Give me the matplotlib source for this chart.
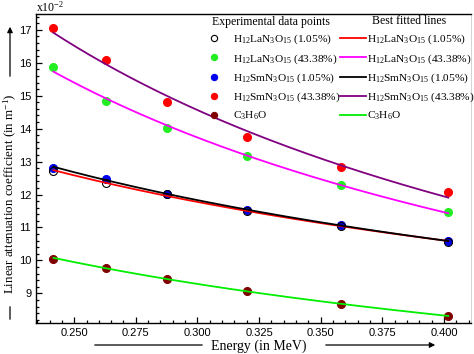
import numpy as np
import matplotlib
matplotlib.use("Agg")
import matplotlib.pyplot as plt
from matplotlib.lines import Line2D
from matplotlib.patches import FancyArrowPatch
from matplotlib.ticker import MultipleLocator

plt.rcParams['mathtext.fontset'] = 'stix'
plt.rcParams['mathtext.default'] = 'regular'

energy = [0.2416, 0.2627, 0.2877, 0.3200, 0.3584, 0.4018]
la_105 = [12.70, 12.35, 12.02, 11.50, 11.04, 10.57]
la_4338 = [15.87, 14.83, 14.03, 13.16, 12.30, 11.46]
sm_105 = [12.82, 12.47, 12.03, 11.52, 11.06, 10.59]
sm_4338 = [17.07, 16.07, 14.80, 13.75, 12.83, 12.07]
acetone = [10.05, 9.78, 9.45, 9.06, 8.69, 8.30]

labels = [r'H$_{12}$LaN$_3$O$_{15}$ (1.05%)',
          r'H$_{12}$LaN$_3$O$_{15}$ (43.38%)',
          r'H$_{12}$SmN$_3$O$_{15}$ (1.05%)',
          r'H$_{12}$SmN$_3$O$_{15}$ (43.38%)',
          r'C$_3$H$_6$O']
series = [la_105, la_4338, sm_105, sm_4338, acetone]
mcolors = ['none', '#22ee22', '#0000ee', '#ff0000', '#800000']
medges = ['black', '#22ee22', '#0000ee', '#ff0000', '#800000']
lcolors = ['#ff0000', '#ff00ff', '#000000', '#800080', '#00ee00']

serif = 'Liberation Serif'
sans = 'Liberation Sans'
W, H = 474, 354

fig = plt.figure(figsize=(4.74, 3.54), dpi=100)
ax = fig.add_axes([36 / W, 1 - 323 / H, 435 / W, 309 / H])

E = np.array(energy)
xf = np.linspace(E.min(), E.max(), 200)
for i in [4, 3, 2, 1, 0]:
    ax.plot(energy, series[i], 'o', ms=5.7, mfc=mcolors[i], mec=medges[i],
            mew=0.8, zorder=3)
for i in [4, 1, 0, 3, 2]:
    b, a = np.polyfit(np.log(E), np.log(series[i]), 1)
    ax.plot(xf, np.exp(a) * xf ** b, color=lcolors[i], lw=1.3, zorder=4)

ax.set_xlim(0.2345, 0.411)
ax.set_ylim(8.1, 17.48)
ax.xaxis.set_minor_locator(MultipleLocator(0.005))
ax.yaxis.set_minor_locator(MultipleLocator(0.2))
ax.tick_params(which='both', direction='in', top=False, right=False,
               labelsize=8, width=0.9)
ax.tick_params(which='major', length=4.5)
ax.tick_params(which='minor', length=2.5)
ax.set_xticks([0.25, 0.275, 0.3, 0.325, 0.35, 0.375, 0.4])
ax.set_xticklabels(['0.250', '0.275', '0.300', '0.325', '0.350', '0.375', '0.400'])
ax.set_yticks([9, 10, 11, 12, 13, 14, 15, 16, 17])
ax.set_yticklabels(['9', '10', '11', '12', '13', '14', '15', '16', '17'])
for lab in ax.get_xticklabels() + ax.get_yticklabels():
    lab.set_fontfamily(sans)
for s in ['left', 'bottom', 'top']:
    ax.spines[s].set_linewidth(1.0)
ax.spines['right'].set_linewidth(0.6)
ax.spines['right'].set_color('#cccccc')

# legends
fs = 8.2
px = fs * 100 / 72
h1 = [Line2D([], [], ls='none', marker='o', ms=4.5, mfc=mcolors[i], mec=medges[i],
             mew=0.8) for i in range(5)]
leg1 = fig.legend(h1, labels, loc='upper left', bbox_to_anchor=(208.5 / W, 1 - 33 / H),
                  bbox_transform=fig.transFigure, frameon=False,
                  prop={'family': serif, 'size': fs},
                  handlelength=1.0, handletextpad=(233 - 208.5 - px) / px, labelspacing=0.5,
                  borderaxespad=0, borderpad=0)
h2 = [Line2D([], [], color=lcolors[i], lw=1.3) for i in range(5)]
leg2 = fig.legend(h2, labels, loc='upper left', bbox_to_anchor=(340 / W, 1 - 33 / H),
                  bbox_transform=fig.transFigure, frameon=False,
                  prop={'family': serif, 'size': fs},
                  handlelength=26 / px, handletextpad=0.1, labelspacing=0.5,
                  borderaxespad=0, borderpad=0)
fig.text(212 / W, 1 - 22 / H, 'Experimental data points', family=serif, fontsize=8.5,
         ha='left', va='center')
fig.text(372 / W, 1 - 21 / H, 'Best fitted lines', family=serif, fontsize=8.5,
         ha='left', va='center')

fig.text(36 / W, 1 - 12 / H, r'x10$^{-2}$', family=serif, fontsize=8.5, ha='left', va='baseline')

fig.text(10 / W, 1 - 194 / H, r'Linear attenuation coefficient (in m$^{-1}$)', rotation=90,
         family=serif, fontsize=9.4, ha='center', va='center')
fig.add_artist(FancyArrowPatch((10 / W, 1 - 322 / H), (10 / W, 1 - 304 / H),
               transform=fig.transFigure, arrowstyle='-', lw=0.9, color='black'))
fig.add_artist(FancyArrowPatch((10 / W, 1 - 79 / H), (10 / W, 1 - 24 / H),
               transform=fig.transFigure, arrowstyle='-|>', mutation_scale=8, lw=0.9, color='black'))
fig.text(259 / W, 1 - 346 / H, 'Energy (in MeV)', family=serif, fontsize=10,
         ha='center', va='center')
fig.add_artist(FancyArrowPatch((92 / W, 1 - 345 / H), (205 / W, 1 - 345 / H),
               transform=fig.transFigure, arrowstyle='-', lw=0.9, color='black'))
fig.add_artist(FancyArrowPatch((323 / W, 1 - 345 / H), (438 / W, 1 - 345 / H),
               transform=fig.transFigure, arrowstyle='-|>', mutation_scale=8, lw=0.9, color='black'))

fig.savefig('out.png', dpi=100)
